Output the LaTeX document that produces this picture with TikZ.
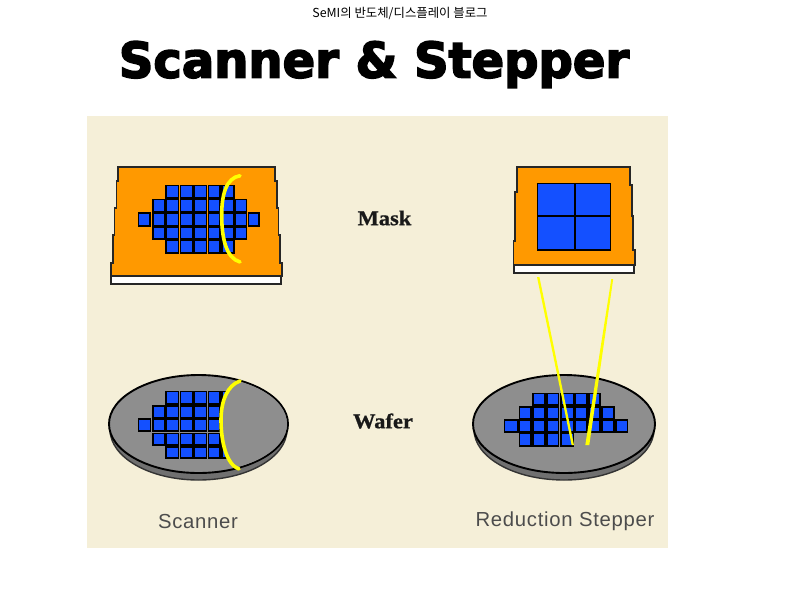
\documentclass[tikz,border=0pt]{standalone}
\usepackage{fontspec}
\setmainfont{Liberation Sans}[LetterSpace=3.5]
\newfontfamily\krfont{Noto Sans CJK KR}
\newfontfamily\titlefont[FakeBold=3.4]{DejaVu Sans Bold}
\newfontfamily\labelserif[FakeBold=0.8]{Liberation Serif Bold}
\definecolor{bgcream}{HTML}{F5EFD8}
\definecolor{maskorange}{HTML}{FF9900}
\definecolor{cellblue}{HTML}{1450FF}
\definecolor{wafergray}{HTML}{8E8E8E}
\definecolor{edgegray}{HTML}{707070}
\definecolor{beamyellow}{HTML}{FFFF00}
\tikzset{
  outline/.style={draw=black!85,line width=1.8pt,line join=miter},
  cellbox/.style={draw=black,line width=1.6pt,fill=cellblue},
  scanarc/.style={draw=beamyellow,line width=3.6pt,line cap=round},
  sidelabel/.style={font=\labelserif\fontsize{21}{21}\selectfont,inner sep=0pt,text=black!90,xscale=1.07},
  caplabel/.style={font=\fontsize{20.3}{21}\selectfont,inner sep=0pt,text=black!70},
}
\newcommand{\cellat}[4]{\path[cellbox] (#1,#3) rectangle (#2,#4);}
\begin{document}
\begin{tikzpicture}[x=1pt,y=-1pt]
\useasboundingbox (0,0) rectangle (800,600);
\fill[white] (0,0) rectangle (800,600);
\fill[bgcream] (87,116) rectangle (668,548);

\node[font=\krfont\fontsize{12.4}{13}\selectfont,inner sep=0pt] (blog) at (400,13) {SeMI의 반도체/디스플레이 블로그};
\node[font=\titlefont\fontsize{50}{50}\selectfont,inner sep=0pt,xscale=0.96,yscale=0.98] (title) at (374,64.5) {Scanner \& Stepper};

% --- Scanner mask
\path[outline,fill=white] (111,276) rectangle (281,284);
\path[outline,fill=maskorange] (118,167) -- (275,167) -- (275,181) -- (277,181) -- (277,208) -- (278.5,208) -- (278.5,235) -- (280,235) -- (280,263) -- (282,263) -- (282,276) -- (111,276) -- (111,263) -- (112.7,263) -- (112.7,235) -- (114.5,235) -- (114.5,208) -- (116.5,208) -- (116.5,181) -- (118,181) -- cycle;
\foreach \xa/\xb in {166/178.5,180.5/192.5,194/206.5,208.5/220,222/234}{
  \foreach \ya/\yb in {185.5/198,199.5/211.5,213/226,227.5/239,240.5/253}{\cellat{\xa}{\xb}{\ya}{\yb}}}
\foreach \xa/\xb in {153/164.5,235.5/246.5}{
  \foreach \ya/\yb in {199.5/211.5,213/226,227.5/239}{\cellat{\xa}{\xb}{\ya}{\yb}}}
\foreach \xa/\xb in {138.5/150,248.5/259}{\cellat{\xa}{\xb}{213}{226}}
\draw[scanarc] (240,175.7) .. controls (226,178) and (221.7,195) .. (221.7,215) .. controls (221.7,238) and (226,258) .. (240,262);

% --- Stepper mask
\path[outline,fill=white] (514,265) rectangle (634,273);
\path[outline,fill=maskorange] (517,167) -- (630,167) -- (630,185) -- (632,185) -- (632,216) -- (633,216) -- (633,250) -- (635,250) -- (635,265) -- (513.5,265) -- (513.5,241) -- (515,241) -- (515,192) -- (517,192) -- cycle;
\path[cellbox,line width=1.9pt] (537.5,183.5) rectangle (610.5,250);
\draw[black,line width=2pt] (575,183.5) -- (575,250) (537.5,215.7) -- (610.5,215.7);

% --- Scanner wafer
\path[draw=black!80,line width=1.4pt,fill=edgegray] (198.5,429.5) ellipse [x radius=88.5,y radius=50.5];
\path[draw=black,line width=1.9pt,fill=wafergray] (198.5,424) ellipse [x radius=89.5,y radius=49];
\foreach \xa/\xb in {166/178.5,180.5/192.5,194/206.5,208.5/220,222/234}{
  \foreach \ya/\yb in {391.5/404,406/417.5,419/431,433.5/445,447/458}{\cellat{\xa}{\xb}{\ya}{\yb}}}
\foreach \ya/\yb in {406/417.5,419/431,433.5/445}{\cellat{153}{164.5}{\ya}{\yb}}
\cellat{138.5}{150.5}{419}{431}
\draw[wafergray,line width=1.2pt] (165,432.3) -- (220.5,432.3);
\begin{scope}
  \clip (198.5,424) ellipse [x radius=88.5,y radius=48];
  \fill[wafergray] (240,375) -- (240,381) .. controls (228,385) and (221,400) .. (221,420) .. controls (221,443) and (227,465) .. (239,469) -- (239,476) -- (290,476) -- (290,375) -- cycle;
\end{scope}
\draw[scanarc] (240,381) .. controls (228,385) and (221,400) .. (221,420) .. controls (221,443) and (227,465) .. (239,469);

% --- Stepper wafer
\path[draw=black!80,line width=1.4pt,fill=edgegray] (564,429.5) ellipse [x radius=90,y radius=50.5];
\path[draw=black,line width=1.9pt,fill=wafergray] (564,424) ellipse [x radius=91,y radius=49];
\foreach \xa/\xb in {532.7/545,546.7/558.3,561/573.3,575/586.7,589/600}{\cellat{\xa}{\xb}{393.5}{405}}
\foreach \xa/\xb in {519.3/530.7,532.7/545,546.7/558.3,561/573.3,575/586.7,589/600,601.7/614}{\cellat{\xa}{\xb}{407}{418.3}}
\foreach \xa/\xb in {504.5/517.7,519.3/530.7,532.7/545,546.7/558.3,561/573.3,575/586.7,589/600,601.7/614,615.7/627.3}{\cellat{\xa}{\xb}{420}{431.7}}
\foreach \xa/\xb in {519.3/530.7,532.7/545,546.7/558.3,561/573.3}{\cellat{\xa}{\xb}{433.5}{446}}
\draw[wafergray,line width=1pt] (559.7,392) -- (559.7,447.5);
\fill[beamyellow] (537,277) -- (539.4,277) -- (574,445) -- (571.6,445) -- cycle;
\fill[beamyellow] (611.3,279) -- (613.2,279) -- (589.3,445) -- (585.3,445) -- cycle;

% --- Labels
\node[sidelabel] (mask) at (384.5,218) {Mask};
\node[sidelabel] (wafer) at (383,421) {Wafer};
\node[caplabel] (scanner) at (198,521.5) {Scanner};
\node[caplabel] (stepper) at (565,521.5) {Reduction Stepper};
\end{tikzpicture}
\end{document}
